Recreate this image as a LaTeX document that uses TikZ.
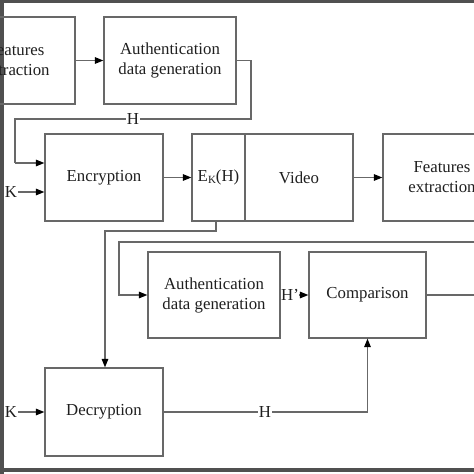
\documentclass[tikz,border=0pt]{standalone}
\usepackage{fontspec}
\setmainfont{Liberation Serif}
\usetikzlibrary{arrows.meta}
\definecolor{ln}{HTML}{686868}
\definecolor{fr}{HTML}{505050}
\tikzset{
  blk/.style={draw=ln, line width=1.2pt, rectangle, inner sep=0pt, align=center,
    font=\fontsize{16.8}{20}\selectfont, text=black!88},
  conn/.style={draw=ln, line width=1.2pt},
  arr/.style={conn, -{Triangle[length=8.5pt,width=6.5pt,color=black]}},
  lbl/.style={font=\fontsize{16.8}{20}\selectfont, text=black!88, fill=white, inner sep=0.5pt},
}
\begin{document}
\begin{tikzpicture}[x=1pt,y=-1pt]
\useasboundingbox (0,0) rectangle (474,474);
\clip (0,0) rectangle (474,474);
% frame
\draw[fr, line width=3.2pt] (-5,1.8) -- (480,1.8);
\draw[fr, line width=3.2pt] (2,0) -- (2,474);
\draw[fr, line width=3.2pt] (-5,470) -- (480,470);
% boxes
\node[blk, minimum width=118pt, minimum height=87pt] (f1) at (16,60.5) {Features\\extraction};
\node[blk, minimum width=132pt, minimum height=87pt] (a1) at (170,60.5) {Authentication\\data generation};
\node[blk, minimum width=118pt, minimum height=87pt] (enc) at (104,177.5) {Encryption};
\node[blk, minimum width=53pt, minimum height=87pt] (ek) at (218.5,177.5) {E\raisebox{-0.3ex}{\fontsize{11}{11}\selectfont K}(H)};
\node[blk, minimum width=108pt, minimum height=87pt] (vid) at (299,177.5) {Video};
\node[blk, minimum width=118pt, minimum height=87pt] (f2) at (442,177.5) {Features\\extraction};
\node[blk, minimum width=132pt, minimum height=86pt] (a2) at (214,295) {Authentication\\data generation};
\node[blk, minimum width=117pt, minimum height=86pt] (cmp) at (367.5,295) {Comparison};
\node[blk, minimum width=118pt, minimum height=88pt] (dec) at (104,412) {Decryption};
% labels
\node[lbl] (k1) at (11,192) {K};
\node[lbl] (k2) at (11,412) {K};
% connectors
\draw[arr] (f1.east) -- (a1.west);
\draw[conn] (a1.east) -- (251,60.5) -- (251,119) -- (15,119) -- (15,163);
\draw[arr] (15,163) -- (enc.west |- 0,163);
\node[lbl] (h1) at (133,119) {H};
\draw[arr] (k1.east) -- (enc.west |- k1.east);
\draw[arr] (enc.east) -- (ek.west);
\draw[arr] (vid.east) -- (f2.west);
\draw[arr] (ek.south -| 216,0) -- (216,231) -- (105,231) -- (dec.north -| 105,0);
\draw[arr] (f2.east) -- ++(12,0) |- (119,242) -- (119,295) -- (a2.west);
\draw[arr] (a2.east) -- (cmp.west);
\node[lbl] (hp) at (290,295) {H’};
\coordinate (out) at (490,295);
\draw[conn] (cmp.east) -- (out);
\draw[arr] (k2.east) -- (dec.west |- k2.east);
\draw[arr] (dec.east) -| (cmp.south);
\node[lbl] (h2) at (265,412) {H};
\end{tikzpicture}
\end{document}
